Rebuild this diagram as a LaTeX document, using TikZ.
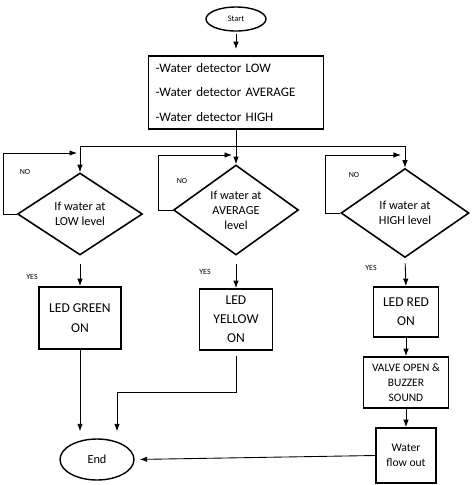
\documentclass[tikz,border=0pt]{standalone}
\usepackage{fontspec}
\setmainfont{Carlito}
\usetikzlibrary{arrows.meta,positioning,shapes.geometric}

\begin{document}
\begin{tikzpicture}[x=0.02cm, y=-0.02cm,
  box/.style={draw, line width=1pt, align=center, inner sep=1pt},
  term/.style={ellipse, draw, line width=0.8pt, inner sep=0pt},
  decision/.style={diamond, draw, line width=0.9pt, align=center, inner sep=0pt, font=\fontsize{7}{8.5}\selectfont},
  flow/.style={-{Latex[length=1.5mm,width=1.1mm]}, line width=0.5pt},
  lbl/.style={font=\fontsize{4.5}{5}\selectfont, inner sep=0pt}]
  \useasboundingbox (0,0) rectangle (474,485);

  %% Start and sensor block
  \node[term, minimum width=1.2cm, minimum height=0.48cm, font=\fontsize{4.8}{5}\selectfont] (start) at (236,19) {Start};
  \node[box, minimum width=3.5cm, minimum height=1.46cm, align=left, inner xsep=0.14cm, text width=3.22cm, font=\fontsize{7.4}{13.9}\selectfont] (sensors) at (236,92.5) {-Water detector LOW\\-Water detector AVERAGE\\-Water detector HIGH};
  \draw[flow, shorten <=0.04cm, shorten >=0.12cm] (start) -- (sensors);

  %% Bus to the three checks
  \coordinate (bus)  at (236,146);
  \coordinate (busL) at (80,146);
  \coordinate (busR) at (405,146);
  \draw[line width=0.5pt] (sensors.south) -- (bus);
  \draw[line width=0.5pt] (busL) -- (busR);

  %% Decisions
  \node[decision, minimum width=2.5cm, minimum height=1.64cm] (low)  at (80,214)  {If water at\\LOW level};
  \node[decision, minimum width=2.5cm, minimum height=1.8cm]  (avg)  at (236,210) {If water at\\AVERAGE\\level};
  \node[decision, minimum width=2.56cm, minimum height=1.78cm] (high) at (405,213) {If water at\\HIGH level};
  \draw[flow] (busL) -- (low.north);
  \draw[flow] (bus)  -- (avg.north);
  \draw[flow] (busR) -- (high.north);

  %% NO loops
  \coordinate (lowin)  at (77,153);
  \coordinate (avgin)  at (232,155);
  \coordinate (highin) at (401,155);
  \draw[flow] (low.west)  -- ++(-13,0) |- (lowin);
  \draw[flow] (avg.west)  -- ++(-14,0) |- (avgin);
  \draw[flow] (high.west) -- ++(-15,0) |- (highin);
  \node[lbl] (no1) at (25,172)  {NO};
  \node[lbl] (no2) at (182,181) {NO};
  \node[lbl] (no3) at (354,175) {NO};

  %% YES outputs
  \node[box, minimum width=1.64cm, minimum height=1.24cm, font=\fontsize{7.7}{11.3}\selectfont] (green)  at (80,318)    {LED GREEN\\ON};
  \node[box, minimum width=1.46cm, minimum height=1.22cm, font=\fontsize{7.7}{10.8}\selectfont] (yellow) at (236,319.5) {LED\\YELLOW\\ON};
  \node[box, minimum width=1.3cm,  minimum height=1cm,    font=\fontsize{7.7}{10.8}\selectfont] (red)    at (406,312)   {LED RED\\ON};
  \draw[flow, shorten <=0.16cm] (low.south)  -- (green.north);
  \draw[flow, shorten <=0.16cm] (avg.south)  -- (yellow.north);
  \draw[flow, shorten <=0.1cm]  (high.south) -- (red.north);
  \node[lbl] (yes1) at (32,277)  {YES};
  \node[lbl] (yes2) at (205,272) {YES};
  \node[lbl] (yes3) at (371,268) {YES};

  %% Red branch
  \node[box, minimum width=1.7cm, minimum height=1.02cm, font=\fontsize{6.5}{8.5}\selectfont] (valve) at (406,382.5) {VALVE OPEN \&\\BUZZER\\SOUND};
  \node[box, minimum width=1.2cm, minimum height=1.1cm,  font=\fontsize{6.6}{8.5}\selectfont] (water) at (406,455.5) {Water\\flow out};
  \draw[flow] (red) -- (valve);
  \draw[flow] (valve) -- (water);

  %% End
  \node[term, minimum width=1.48cm, minimum height=0.82cm, font=\fontsize{7}{8}\selectfont] (end) at (97,459.5) {End};
  \coordinate (ybend) at (117,392);
  \draw[flow, shorten >=0.14cm] (green.south) -- (green.south |- end.north);
  \draw[flow, shorten <=0.1cm, shorten >=0.14cm] (yellow.south) |- (ybend) -- (ybend |- end.north);
  \draw[flow, shorten >=0.1cm] (water.west) -- (end.east);
\end{tikzpicture}
\end{document}
